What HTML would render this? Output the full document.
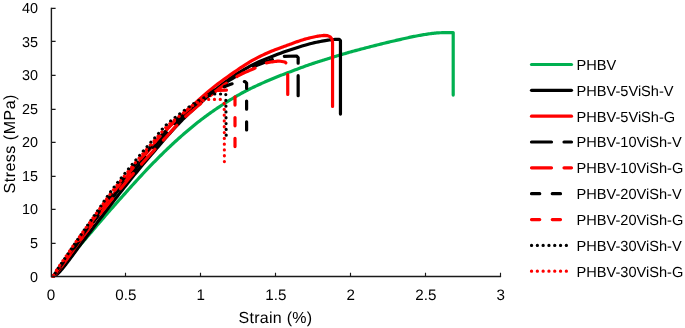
<!DOCTYPE html>
<html lang="en"><head><meta charset="utf-8"><title>Stress-strain curves</title>
<style>html,body{margin:0;padding:0;background:#fff}body{width:685px;height:328px;overflow:hidden}svg{display:block}</style></head>
<body>
<svg width="685" height="328" viewBox="0 0 685 328">
<rect width="685" height="328" fill="#fff"/>
<g fill="none" stroke-linecap="round" stroke-linejoin="round" stroke-width="3.2">
<path stroke="#00B050" d="M53.00 276.40 L54.06 275.13 L55.12 273.87 L56.17 272.61 L57.22 271.35 L58.27 270.09 L59.33 268.83 L60.39 267.56 L61.48 266.28 L62.58 264.99 L63.70 263.69 L64.85 262.37 L66.02 261.05 L67.20 259.71 L68.41 258.37 L69.62 257.03 L70.84 255.67 L72.06 254.31 L73.28 252.95 L74.49 251.58 L75.70 250.22 L76.90 248.84 L78.10 247.47 L79.30 246.08 L80.50 244.70 L81.70 243.30 L82.90 241.91 L84.10 240.51 L85.30 239.11 L86.50 237.71 L87.70 236.31 L88.90 234.91 L90.10 233.51 L91.30 232.10 L92.50 230.69 L93.70 229.27 L94.90 227.86 L96.10 226.45 L97.30 225.05 L98.50 223.64 L99.70 222.25 L100.90 220.85 L102.10 219.47 L103.30 218.08 L104.50 216.70 L105.70 215.31 L106.90 213.94 L108.10 212.56 L109.30 211.19 L110.50 209.82 L111.70 208.45 L112.90 207.08 L114.10 205.72 L115.30 204.36 L116.50 203.00 L117.70 201.65 L118.90 200.30 L120.10 198.95 L121.30 197.60 L122.50 196.25 L123.70 194.91 L124.90 193.57 L126.10 192.22 L127.30 190.88 L128.50 189.54 L129.70 188.21 L130.90 186.87 L132.10 185.54 L133.30 184.22 L134.50 182.90 L135.70 181.59 L136.90 180.28 L138.10 178.97 L139.30 177.67 L140.50 176.37 L141.70 175.07 L142.90 173.78 L144.10 172.50 L145.30 171.22 L146.50 169.95 L147.70 168.69 L148.90 167.44 L150.10 166.19 L151.30 164.95 L152.50 163.71 L153.70 162.48 L154.90 161.26 L156.10 160.04 L157.30 158.83 L158.50 157.63 L159.70 156.43 L160.90 155.24 L162.10 154.06 L163.30 152.89 L164.50 151.72 L165.70 150.56 L166.90 149.41 L168.10 148.26 L169.30 147.13 L170.50 146.00 L171.70 144.87 L172.90 143.76 L174.10 142.65 L175.30 141.55 L176.50 140.46 L177.70 139.37 L178.90 138.29 L180.10 137.22 L181.30 136.16 L182.50 135.11 L183.70 134.06 L184.90 133.02 L186.10 131.99 L187.30 130.97 L188.50 129.95 L189.70 128.94 L190.90 127.94 L192.10 126.94 L193.30 125.96 L194.50 124.99 L195.70 124.02 L196.90 123.07 L198.10 122.12 L199.30 121.19 L200.50 120.26 L201.70 119.34 L202.90 118.43 L204.10 117.53 L205.30 116.64 L206.50 115.76 L207.70 114.88 L208.90 114.01 L210.10 113.15 L211.30 112.30 L212.50 111.46 L213.70 110.63 L214.90 109.80 L216.10 108.98 L217.30 108.17 L218.50 107.37 L219.70 106.57 L220.90 105.78 L222.10 105.00 L223.30 104.22 L224.50 103.46 L225.70 102.70 L226.90 101.94 L228.10 101.20 L229.30 100.46 L230.50 99.72 L231.70 99.00 L232.90 98.28 L234.10 97.57 L235.30 96.86 L236.50 96.16 L237.70 95.46 L238.90 94.78 L240.10 94.10 L241.30 93.43 L242.50 92.77 L243.70 92.13 L244.90 91.49 L246.10 90.86 L247.30 90.24 L248.50 89.64 L249.70 89.04 L250.90 88.44 L252.10 87.86 L253.30 87.28 L254.50 86.71 L255.70 86.14 L256.90 85.58 L258.10 85.03 L259.30 84.48 L260.50 83.94 L261.70 83.41 L262.90 82.88 L264.10 82.36 L265.30 81.84 L266.50 81.32 L267.70 80.81 L268.90 80.29 L270.10 79.78 L271.30 79.27 L272.50 78.77 L273.70 78.27 L274.90 77.77 L276.10 77.28 L277.30 76.79 L278.50 76.31 L279.70 75.83 L280.90 75.35 L282.10 74.88 L283.30 74.41 L284.50 73.95 L285.70 73.50 L286.90 73.04 L288.10 72.59 L289.30 72.13 L290.50 71.68 L291.70 71.22 L292.90 70.77 L294.10 70.31 L295.30 69.85 L296.50 69.40 L297.70 68.94 L298.90 68.49 L300.10 68.04 L301.30 67.59 L302.50 67.15 L303.70 66.72 L304.90 66.29 L306.10 65.86 L307.30 65.44 L308.50 65.02 L309.70 64.61 L310.90 64.20 L312.10 63.79 L313.30 63.39 L314.50 62.99 L315.70 62.59 L316.90 62.20 L318.10 61.81 L319.30 61.42 L320.50 61.04 L321.70 60.66 L322.90 60.28 L324.10 59.91 L325.30 59.53 L326.50 59.16 L327.70 58.78 L328.90 58.41 L330.10 58.04 L331.30 57.67 L332.50 57.30 L333.70 56.93 L334.90 56.56 L336.10 56.20 L337.30 55.84 L338.50 55.48 L339.70 55.12 L340.90 54.76 L342.10 54.41 L343.30 54.05 L344.50 53.70 L345.70 53.35 L346.90 53.00 L348.10 52.65 L349.30 52.31 L350.50 51.97 L351.70 51.63 L352.90 51.30 L354.10 50.98 L355.30 50.65 L356.50 50.33 L357.70 50.01 L358.90 49.70 L360.10 49.38 L361.30 49.07 L362.50 48.75 L363.70 48.44 L364.90 48.12 L366.10 47.81 L367.30 47.50 L368.50 47.19 L369.70 46.88 L370.90 46.57 L372.10 46.26 L373.30 45.95 L374.50 45.65 L375.70 45.34 L376.90 45.04 L378.10 44.74 L379.30 44.43 L380.50 44.13 L381.70 43.83 L382.90 43.53 L384.10 43.24 L385.30 42.94 L386.50 42.65 L387.70 42.36 L388.90 42.08 L390.10 41.79 L391.30 41.51 L392.50 41.24 L393.70 40.96 L394.90 40.69 L396.10 40.41 L397.30 40.14 L398.50 39.87 L399.70 39.60 L400.90 39.33 L402.10 39.05 L403.30 38.78 L404.50 38.50 L405.70 38.23 L406.90 37.96 L408.10 37.69 L409.30 37.43 L410.50 37.17 L411.70 36.92 L412.90 36.68 L414.10 36.44 L415.30 36.20 L416.50 35.97 L417.70 35.75 L418.90 35.52 L420.10 35.31 L421.30 35.10 L422.50 34.89 L423.70 34.69 L424.91 34.50 L426.13 34.31 L427.35 34.12 L428.58 33.94 L429.81 33.76 L431.02 33.59 L432.22 33.43 L433.41 33.29 L434.57 33.16 L435.70 33.04 L436.80 32.95 L437.87 32.87 L438.91 32.81 L439.94 32.77 L440.96 32.73 L441.96 32.70 L442.96 32.67 L443.97 32.65 L444.98 32.61 L446.00 32.57 L453.20 32.55 L453.20 95.10"/>
<path stroke="#000000" d="M53.00 276.40 L53.44 276.17 L53.88 275.95 L54.32 275.73 L54.77 275.52 L55.21 275.30 L55.65 275.08 L56.09 274.84 L56.52 274.58 L56.95 274.30 L57.37 274.00 L57.77 273.67 L58.16 273.33 L58.54 272.98 L58.91 272.61 L59.28 272.23 L59.65 271.82 L60.03 271.40 L60.42 270.95 L60.83 270.49 L61.25 270.00 L61.70 269.49 L62.15 268.94 L62.62 268.38 L63.10 267.79 L63.58 267.19 L64.08 266.57 L64.57 265.94 L65.08 265.30 L65.58 264.65 L66.09 264.00 L66.58 263.36 L67.06 262.74 L67.53 262.13 L68.00 261.51 L68.48 260.88 L68.98 260.21 L69.51 259.50 L70.08 258.74 L70.70 257.91 L71.37 257.00 L72.10 256.02 L72.87 254.97 L73.68 253.86 L74.53 252.70 L75.41 251.50 L76.32 250.26 L77.26 248.98 L78.22 247.67 L79.20 246.34 L80.20 245.00 L81.21 243.64 L82.24 242.27 L83.28 240.88 L84.35 239.46 L85.44 238.00 L86.57 236.50 L87.73 234.96 L88.94 233.37 L90.19 231.72 L91.50 230.00 L92.86 228.20 L94.30 226.32 L95.79 224.37 L97.32 222.36 L98.89 220.31 L100.47 218.24 L102.07 216.16 L103.66 214.08 L105.24 212.02 L106.80 210.00 L108.33 208.01 L109.85 206.03 L111.37 204.06 L112.88 202.10 L114.40 200.12 L115.93 198.14 L117.48 196.15 L119.06 194.13 L120.66 192.08 L122.30 190.00 L123.98 187.88 L125.69 185.71 L127.44 183.52 L129.21 181.30 L130.99 179.07 L132.79 176.83 L134.60 174.60 L136.41 172.37 L138.21 170.17 L140.00 168.00 L141.83 165.80 L143.73 163.54 L145.68 161.25 L147.63 158.96 L149.57 156.69 L151.47 154.49 L153.29 152.38 L155.00 150.39 L156.58 148.55 L158.00 146.90 L159.22 145.47 L160.27 144.24 L161.17 143.17 L161.96 142.23 L162.69 141.38 L163.38 140.57 L164.07 139.77 L164.79 138.94 L165.59 138.02 L166.50 137.00 L167.49 135.89 L168.51 134.75 L169.55 133.59 L170.62 132.40 L171.72 131.19 L172.84 129.97 L173.97 128.74 L175.13 127.50 L176.31 126.25 L177.50 125.00 L178.64 123.81 L179.68 122.70 L180.67 121.63 L181.67 120.57 L182.72 119.47 L183.87 118.29 L185.18 117.00 L186.68 115.54 L188.44 113.89 L190.50 112.00 L192.92 109.80 L195.67 107.28 L198.70 104.53 L201.94 101.60 L205.31 98.58 L208.76 95.53 L212.22 92.53 L215.63 89.64 L218.91 86.94 L222.00 84.50 L224.93 82.27 L227.78 80.17 L230.58 78.17 L233.33 76.26 L236.06 74.44 L238.78 72.70 L241.52 71.01 L244.29 69.37 L247.11 67.77 L250.00 66.20 L252.96 64.67 L255.97 63.20 L259.03 61.80 L262.11 60.45 L265.21 59.14 L268.32 57.89 L271.43 56.67 L274.52 55.48 L277.58 54.33 L280.60 53.20 L283.64 52.09 L286.74 51.00 L289.87 49.93 L292.99 48.90 L296.09 47.91 L299.12 46.97 L302.06 46.08 L304.87 45.25 L307.53 44.49 L310.00 43.80 L312.31 43.19 L314.50 42.66 L316.57 42.21 L318.52 41.81 L320.37 41.47 L322.10 41.16 L323.73 40.90 L325.25 40.65 L326.68 40.42 L328.00 40.20 L329.18 40.00 L330.17 39.85 L331.02 39.74 L331.76 39.66 L332.41 39.60 L333.00 39.56 L333.58 39.52 L334.17 39.48 L334.80 39.42 L335.50 39.35 L339.30 39.45 L340.45 40.60 L340.45 114.10"/>
<path stroke="#FF0000" d="M53.00 276.40 L53.29 276.17 L53.57 275.95 L53.86 275.73 L54.15 275.52 L54.43 275.30 L54.72 275.08 L55.01 274.84 L55.30 274.58 L55.59 274.30 L55.88 274.00 L56.17 273.67 L56.46 273.33 L56.74 272.98 L57.02 272.61 L57.31 272.23 L57.60 271.82 L57.91 271.40 L58.23 270.95 L58.57 270.49 L58.93 270.00 L59.31 269.49 L59.71 268.94 L60.13 268.38 L60.57 267.79 L61.01 267.19 L61.47 266.57 L61.93 265.94 L62.40 265.30 L62.87 264.65 L63.34 264.00 L63.81 263.36 L64.26 262.74 L64.70 262.13 L65.15 261.51 L65.61 260.88 L66.09 260.21 L66.60 259.50 L67.15 258.74 L67.74 257.91 L68.39 257.00 L69.08 256.02 L69.82 254.97 L70.60 253.86 L71.41 252.70 L72.25 251.50 L73.13 250.26 L74.02 248.98 L74.95 247.67 L75.89 246.34 L76.85 245.00 L77.83 243.64 L78.82 242.27 L79.83 240.88 L80.87 239.46 L81.93 238.00 L83.02 236.50 L84.14 234.96 L85.31 233.37 L86.51 231.72 L87.75 230.00 L89.05 228.20 L90.40 226.32 L91.81 224.37 L93.25 222.36 L94.72 220.31 L96.21 218.24 L97.71 216.16 L99.21 214.08 L100.69 212.02 L102.15 210.00 L103.58 208.01 L104.99 206.03 L106.39 204.06 L107.79 202.10 L109.20 200.12 L110.62 198.14 L112.07 196.15 L113.54 194.13 L115.06 192.08 L116.64 190.00 L118.26 187.88 L119.93 185.71 L121.65 183.52 L123.40 181.30 L125.17 179.07 L126.96 176.83 L128.75 174.60 L130.55 172.37 L132.34 170.17 L134.12 168.00 L135.92 165.80 L137.80 163.54 L139.72 161.25 L141.65 158.96 L143.56 156.69 L145.43 154.49 L147.23 152.38 L148.92 150.39 L150.49 148.55 L151.90 146.90 L153.12 145.47 L154.17 144.24 L155.08 143.17 L155.89 142.23 L156.64 141.38 L157.34 140.57 L158.05 139.77 L158.79 138.94 L159.60 138.02 L160.50 137.00 L161.48 135.89 L162.47 134.75 L163.48 133.59 L164.51 132.40 L165.56 131.19 L166.64 129.97 L167.75 128.74 L168.90 127.50 L170.08 126.25 L171.31 125.00 L172.53 123.80 L173.70 122.66 L174.85 121.57 L176.03 120.47 L177.27 119.34 L178.60 118.15 L180.05 116.85 L181.66 115.42 L183.47 113.81 L185.50 112.00 L187.79 109.94 L190.32 107.64 L193.05 105.16 L195.94 102.53 L198.95 99.81 L202.05 97.04 L205.19 94.28 L208.34 91.57 L211.45 88.96 L214.50 86.50 L217.57 84.11 L220.76 81.71 L224.02 79.31 L227.31 76.94 L230.59 74.62 L233.83 72.37 L236.98 70.23 L240.00 68.20 L242.86 66.32 L245.50 64.60 L247.93 63.06 L250.20 61.69 L252.32 60.45 L254.32 59.34 L256.21 58.32 L258.03 57.38 L259.80 56.50 L261.53 55.66 L263.26 54.83 L265.00 54.00 L266.75 53.19 L268.47 52.44 L270.16 51.73 L271.82 51.07 L273.43 50.46 L274.99 49.87 L276.50 49.32 L277.94 48.80 L279.31 48.29 L280.60 47.80 L281.78 47.34 L282.83 46.94 L283.78 46.58 L284.66 46.25 L285.49 45.94 L286.31 45.64 L287.15 45.33 L288.02 45.01 L288.96 44.67 L290.00 44.30 L291.12 43.89 L292.30 43.46 L293.52 43.01 L294.78 42.55 L296.06 42.08 L297.35 41.62 L298.65 41.16 L299.95 40.72 L301.24 40.30 L302.50 39.90 L303.77 39.52 L305.06 39.15 L306.37 38.79 L307.68 38.44 L308.98 38.10 L310.27 37.78 L311.53 37.48 L312.74 37.20 L313.90 36.94 L315.00 36.70 L316.03 36.50 L316.99 36.33 L317.90 36.18 L318.77 36.06 L319.61 35.95 L320.43 35.86 L321.24 35.76 L322.06 35.67 L322.89 35.57 L323.75 35.45 L327.50 35.60 L330.30 36.90 L332.00 39.20 L332.55 42.00 L332.55 106.40"/>
<path stroke="#000000" stroke-dasharray="20 12.5" stroke-dashoffset="31.81" d="M53.00 276.40 L53.26 276.17 L53.51 275.95 L53.77 275.73 L54.02 275.52 L54.27 275.30 L54.53 275.08 L54.79 274.84 L55.05 274.58 L55.32 274.30 L55.59 274.00 L55.86 273.67 L56.12 273.33 L56.38 272.98 L56.65 272.61 L56.91 272.23 L57.19 271.82 L57.48 271.40 L57.79 270.95 L58.11 270.49 L58.46 270.00 L58.83 269.49 L59.22 268.94 L59.63 268.38 L60.06 267.79 L60.50 267.19 L60.94 266.57 L61.40 265.94 L61.86 265.30 L62.33 264.65 L62.80 264.00 L63.25 263.36 L63.70 262.74 L64.14 262.13 L64.58 261.51 L65.04 260.88 L65.52 260.21 L66.02 259.50 L66.56 258.74 L67.15 257.91 L67.79 257.00 L68.48 256.02 L69.21 254.97 L69.98 253.86 L70.78 252.70 L71.62 251.50 L72.49 250.26 L73.38 248.98 L74.29 247.67 L75.23 246.34 L76.18 245.00 L77.14 243.64 L78.11 242.27 L79.10 240.88 L80.10 239.46 L81.14 238.00 L82.21 236.50 L83.32 234.96 L84.49 233.37 L85.71 231.72 L87.00 230.00 L88.37 228.20 L89.81 226.32 L91.33 224.37 L92.89 222.36 L94.50 220.31 L96.13 218.24 L97.77 216.16 L99.41 214.08 L101.03 212.02 L102.63 210.00 L104.19 208.01 L105.75 206.03 L107.30 204.06 L108.85 202.10 L110.40 200.12 L111.97 198.14 L113.56 196.15 L115.17 194.13 L116.80 192.08 L118.47 190.00 L120.18 187.88 L121.93 185.71 L123.70 183.52 L125.50 181.30 L127.31 179.07 L129.13 176.83 L130.96 174.60 L132.79 172.37 L134.62 170.17 L136.43 168.00 L138.28 165.80 L140.20 163.54 L142.16 161.25 L144.13 158.96 L146.08 156.69 L147.99 154.49 L149.82 152.38 L151.55 150.39 L153.14 148.55 L154.57 146.90 L155.81 145.47 L156.88 144.24 L157.80 143.17 L158.61 142.23 L159.36 141.38 L160.06 140.57 L160.77 139.77 L161.51 138.94 L162.32 138.02 L163.23 137.00 L164.22 135.89 L165.24 134.74 L166.29 133.57 L167.36 132.38 L168.45 131.16 L169.55 129.94 L170.68 128.70 L171.82 127.47 L172.97 126.23 L174.12 125.00 L175.21 123.83 L176.17 122.75 L177.06 121.71 L177.95 120.68 L178.90 119.62 L179.96 118.50 L181.19 117.26 L182.65 115.87 L184.40 114.30 L186.50 112.50 L189.01 110.41 L191.90 108.03 L195.11 105.44 L198.55 102.68 L202.15 99.84 L205.84 96.96 L209.54 94.13 L213.19 91.40 L216.70 88.83 L220.00 86.50 L223.19 84.34 L226.38 82.25 L229.57 80.23 L232.73 78.29 L235.84 76.44 L238.89 74.67 L241.85 73.00 L244.70 71.43 L247.42 69.96 L250.00 68.60 L252.43 67.37 L254.73 66.27 L256.91 65.30 L258.99 64.42 L260.97 63.64 L262.88 62.92 L264.73 62.25 L266.52 61.62 L268.27 61.01 L270.00 60.40 L271.67 59.82 L273.24 59.32 L274.73 58.87 L276.16 58.46 L277.55 58.09 L278.91 57.74 L280.26 57.40 L281.61 57.05 L282.99 56.69 L284.40 56.30 L296.50 56.00 L298.15 57.60 L298.15 95.70"/>
<path stroke="#FF0000" stroke-dasharray="20 12.5" stroke-dashoffset="19.35" d="M53.00 276.40 L53.27 276.17 L53.54 275.95 L53.81 275.73 L54.08 275.52 L54.35 275.30 L54.62 275.08 L54.90 274.84 L55.17 274.58 L55.45 274.30 L55.73 274.00 L56.01 273.67 L56.29 273.33 L56.56 272.98 L56.83 272.61 L57.11 272.23 L57.40 271.82 L57.70 271.40 L58.01 270.95 L58.34 270.49 L58.69 270.00 L59.07 269.49 L59.47 268.94 L59.88 268.38 L60.31 267.79 L60.75 267.19 L61.21 266.57 L61.67 265.94 L62.13 265.30 L62.60 264.65 L63.07 264.00 L63.53 263.36 L63.98 262.74 L64.42 262.13 L64.87 261.51 L65.33 260.88 L65.80 260.21 L66.31 259.50 L66.86 258.74 L67.45 257.91 L68.09 257.00 L68.78 256.02 L69.52 254.97 L70.29 253.86 L71.10 252.70 L71.94 251.50 L72.81 250.26 L73.70 248.98 L74.62 247.67 L75.56 246.34 L76.52 245.00 L77.48 243.64 L78.45 242.27 L79.44 240.88 L80.44 239.46 L81.48 238.00 L82.55 236.50 L83.67 234.96 L84.84 233.37 L86.07 231.72 L87.37 230.00 L88.75 228.20 L90.22 226.32 L91.75 224.37 L93.33 222.36 L94.96 220.31 L96.61 218.24 L98.28 216.16 L99.94 214.08 L101.60 212.02 L103.22 210.00 L104.81 208.01 L106.40 206.03 L107.98 204.06 L109.56 202.10 L111.15 200.12 L112.76 198.14 L114.38 196.15 L116.03 194.13 L117.71 192.08 L119.43 190.00 L121.19 187.88 L122.99 185.71 L124.82 183.52 L126.68 181.30 L128.55 179.07 L130.44 176.83 L132.34 174.60 L134.24 172.37 L136.14 170.17 L138.03 168.00 L139.96 165.80 L141.97 163.54 L144.03 161.25 L146.10 158.96 L148.16 156.69 L150.16 154.49 L152.09 152.38 L153.91 150.39 L155.59 148.55 L157.09 146.90 L158.40 145.47 L159.52 144.24 L160.49 143.17 L161.35 142.23 L162.14 141.38 L162.88 140.57 L163.62 139.77 L164.39 138.94 L165.23 138.02 L166.17 137.00 L167.19 135.89 L168.22 134.74 L169.27 133.57 L170.34 132.37 L171.43 131.16 L172.54 129.93 L173.67 128.70 L174.82 127.46 L175.98 126.23 L177.16 125.00 L178.30 123.82 L179.37 122.72 L180.40 121.65 L181.44 120.58 L182.52 119.49 L183.68 118.35 L184.98 117.12 L186.43 115.77 L188.09 114.28 L190.00 112.60 L192.22 110.68 L194.77 108.51 L197.55 106.15 L200.52 103.66 L203.58 101.11 L206.68 98.55 L209.75 96.05 L212.70 93.66 L215.48 91.46 L218.00 89.50 L220.29 87.75 L222.45 86.14 L224.48 84.65 L226.42 83.26 L228.29 81.96 L230.12 80.73 L231.93 79.56 L233.74 78.42 L235.59 77.31 L237.50 76.20 L239.49 75.11 L241.55 74.06 L243.64 73.06 L245.75 72.10 L247.83 71.19 L249.87 70.32 L251.82 69.49 L253.66 68.72 L255.37 67.98 L256.90 67.30 L258.23 66.67 L259.36 66.11 L260.34 65.60 L261.21 65.14 L262.01 64.72 L262.77 64.33 L263.53 63.98 L264.34 63.64 L265.23 63.32 L266.25 63.00 L267.37 62.71 L268.55 62.45 L269.77 62.23 L271.02 62.03 L272.30 61.86 L273.60 61.69 L274.90 61.53 L276.20 61.36 L277.49 61.19 L278.75 61.00 L285.00 62.00 L287.70 64.60 L287.75 94.50"/>
<path stroke="#000000" stroke-dasharray="8.25 12.5" stroke-dashoffset="11.58" d="M53.00 276.40 L53.21 276.17 L53.42 275.95 L53.63 275.73 L53.83 275.52 L54.04 275.30 L54.25 275.08 L54.46 274.84 L54.68 274.58 L54.91 274.30 L55.14 274.00 L55.38 273.67 L55.61 273.33 L55.84 272.98 L56.08 272.61 L56.32 272.23 L56.58 271.82 L56.85 271.40 L57.13 270.95 L57.44 270.49 L57.76 270.00 L58.12 269.49 L58.49 268.94 L58.89 268.38 L59.30 267.79 L59.72 267.19 L60.16 266.57 L60.61 265.94 L61.06 265.30 L61.52 264.65 L61.97 264.00 L62.42 263.36 L62.86 262.74 L63.29 262.13 L63.73 261.51 L64.18 260.88 L64.65 260.21 L65.15 259.50 L65.68 258.74 L66.26 257.91 L66.89 257.00 L67.57 256.02 L68.30 254.97 L69.05 253.86 L69.85 252.70 L70.67 251.50 L71.53 250.26 L72.41 248.98 L73.31 247.67 L74.23 246.34 L75.17 245.00 L76.13 243.64 L77.10 242.27 L78.09 240.88 L79.11 239.46 L80.15 238.00 L81.22 236.50 L82.32 234.96 L83.46 233.37 L84.65 231.72 L85.87 230.00 L87.16 228.20 L88.51 226.32 L89.90 224.37 L91.34 222.36 L92.80 220.31 L94.29 218.24 L95.78 216.16 L97.27 214.08 L98.75 212.02 L100.20 210.00 L101.63 208.01 L103.03 206.03 L104.42 204.06 L105.81 202.10 L107.21 200.12 L108.63 198.14 L110.07 196.15 L111.55 194.13 L113.07 192.08 L114.65 190.00 L116.29 187.88 L117.97 185.71 L119.71 183.52 L121.47 181.30 L123.27 179.07 L125.08 176.83 L126.91 174.60 L128.74 172.37 L130.57 170.17 L132.39 168.00 L134.25 165.80 L136.19 163.54 L138.17 161.25 L140.17 158.96 L142.17 156.69 L144.11 154.49 L145.99 152.38 L147.76 150.39 L149.39 148.55 L150.86 146.90 L152.14 145.47 L153.24 144.24 L154.19 143.17 L155.04 142.23 L155.82 141.38 L156.56 140.57 L157.31 139.77 L158.11 138.94 L158.98 138.02 L159.96 137.00 L161.04 135.88 L162.17 134.73 L163.34 133.54 L164.54 132.33 L165.77 131.10 L167.00 129.86 L168.25 128.63 L169.49 127.40 L170.73 126.19 L171.94 125.00 L173.08 123.87 L174.12 122.80 L175.11 121.77 L176.09 120.75 L177.09 119.72 L178.17 118.65 L179.36 117.52 L180.69 116.30 L182.23 114.97 L184.00 113.50 L186.07 111.83 L188.44 109.94 L191.03 107.90 L193.78 105.76 L196.63 103.58 L199.51 101.41 L202.35 99.31 L205.09 97.34 L207.66 95.55 L210.00 94.00 L212.16 92.67 L214.24 91.48 L216.24 90.42 L218.16 89.47 L220.00 88.62 L221.76 87.86 L223.44 87.16 L225.04 86.51 L226.56 85.89 L228.00 85.30 L229.32 84.76 L230.51 84.32 L231.59 83.96 L232.58 83.66 L233.50 83.40 L234.38 83.17 L235.25 82.95 L236.13 82.73 L237.04 82.48 L238.00 82.20 L245.00 81.60 L246.60 83.20 L246.60 130.00"/>
<path stroke="#FF0000" stroke-dasharray="8.25 12.5" stroke-dashoffset="18.46" d="M53.00 276.40 L53.20 276.17 L53.39 275.95 L53.58 275.73 L53.77 275.52 L53.96 275.30 L54.16 275.08 L54.36 274.84 L54.56 274.58 L54.77 274.30 L54.99 274.00 L55.22 273.67 L55.44 273.33 L55.66 272.98 L55.89 272.61 L56.13 272.23 L56.37 271.82 L56.63 271.40 L56.91 270.95 L57.21 270.49 L57.53 270.00 L57.88 269.49 L58.25 268.94 L58.64 268.38 L59.05 267.79 L59.47 267.19 L59.90 266.57 L60.34 265.94 L60.79 265.30 L61.24 264.65 L61.70 264.00 L62.14 263.36 L62.58 262.74 L63.01 262.13 L63.44 261.51 L63.89 260.88 L64.36 260.21 L64.86 259.50 L65.39 258.74 L65.97 257.91 L66.59 257.00 L67.27 256.02 L67.99 254.97 L68.75 253.86 L69.54 252.70 L70.36 251.50 L71.21 250.26 L72.08 248.98 L72.98 247.67 L73.90 246.34 L74.84 245.00 L75.79 243.64 L76.75 242.27 L77.73 240.88 L78.73 239.46 L79.76 238.00 L80.82 236.50 L81.92 234.96 L83.07 233.37 L84.26 231.72 L85.50 230.00 L86.81 228.20 L88.19 226.32 L89.62 224.37 L91.10 222.36 L92.62 220.31 L94.15 218.24 L95.69 216.16 L97.24 214.08 L98.76 212.02 L100.26 210.00 L101.73 208.01 L103.19 206.03 L104.63 204.06 L106.08 202.10 L107.53 200.12 L108.99 198.14 L110.48 196.15 L112.00 194.13 L113.56 192.08 L115.16 190.00 L116.82 187.88 L118.53 185.71 L120.28 183.52 L122.06 181.30 L123.86 179.07 L125.67 176.83 L127.50 174.60 L129.32 172.37 L131.13 170.17 L132.92 168.00 L134.75 165.80 L136.64 163.54 L138.56 161.25 L140.50 158.96 L142.42 156.69 L144.30 154.49 L146.10 152.38 L147.80 150.39 L149.37 148.55 L150.78 146.90 L152.01 145.47 L153.06 144.24 L153.97 143.17 L154.78 142.23 L155.52 141.38 L156.22 140.57 L156.93 139.77 L157.67 138.94 L158.49 138.02 L159.41 137.00 L160.43 135.88 L161.48 134.71 L162.57 133.51 L163.69 132.28 L164.83 131.04 L165.98 129.79 L167.14 128.56 L168.29 127.34 L169.45 126.15 L170.58 125.00 L171.67 123.92 L172.68 122.91 L173.66 121.94 L174.62 121.00 L175.62 120.06 L176.66 119.10 L177.79 118.08 L179.04 116.99 L180.43 115.81 L182.00 114.50 L183.81 113.02 L185.86 111.36 L188.09 109.57 L190.45 107.69 L192.87 105.79 L195.30 103.90 L197.69 102.08 L199.97 100.37 L202.10 98.83 L204.00 97.50 L205.69 96.39 L207.24 95.45 L208.67 94.64 L210.01 93.95 L211.28 93.33 L212.51 92.76 L213.72 92.22 L214.94 91.66 L216.19 91.07 L217.50 90.40 L230.50 89.90 L235.00 95.60 L235.00 146.60"/>
<path stroke="#000000" stroke-dasharray="0.1 5.7" stroke-dashoffset="2.00" d="M53.00 276.40 L53.17 276.17 L53.33 275.95 L53.49 275.73 L53.64 275.52 L53.80 275.30 L53.96 275.08 L54.13 274.84 L54.31 274.58 L54.49 274.30 L54.69 274.00 L54.89 273.67 L55.09 273.33 L55.29 272.98 L55.50 272.61 L55.71 272.23 L55.94 271.82 L56.18 271.40 L56.44 270.95 L56.72 270.49 L57.03 270.00 L57.36 269.49 L57.72 268.94 L58.09 268.38 L58.49 267.79 L58.90 267.19 L59.32 266.57 L59.75 265.94 L60.19 265.30 L60.63 264.65 L61.07 264.00 L61.51 263.36 L61.93 262.74 L62.35 262.13 L62.78 261.51 L63.22 260.88 L63.68 260.21 L64.17 259.50 L64.69 258.74 L65.25 257.91 L65.87 257.00 L66.53 256.02 L67.24 254.97 L67.98 253.86 L68.75 252.70 L69.55 251.50 L70.39 250.26 L71.24 248.98 L72.12 247.67 L73.02 246.34 L73.94 245.00 L74.87 243.64 L75.82 242.27 L76.79 240.88 L77.78 239.46 L78.80 238.00 L79.84 236.50 L80.92 234.96 L82.03 233.37 L83.18 231.72 L84.37 230.00 L85.62 228.20 L86.92 226.32 L88.27 224.37 L89.66 222.36 L91.07 220.31 L92.50 218.24 L93.94 216.16 L95.37 214.08 L96.79 212.02 L98.19 210.00 L99.55 208.01 L100.90 206.03 L102.22 204.06 L103.55 202.10 L104.88 200.12 L106.22 198.14 L107.60 196.15 L109.01 194.13 L110.48 192.08 L112.00 190.00 L113.59 187.88 L115.23 185.71 L116.92 183.52 L118.65 181.30 L120.41 179.07 L122.19 176.83 L123.98 174.60 L125.76 172.37 L127.54 170.17 L129.30 168.00 L131.09 165.80 L132.94 163.54 L134.84 161.25 L136.75 158.96 L138.64 156.69 L140.49 154.49 L142.26 152.38 L143.94 150.39 L145.50 148.55 L146.90 146.90 L148.12 145.47 L149.18 144.24 L150.10 143.17 L150.93 142.23 L151.68 141.38 L152.41 140.57 L153.13 139.77 L153.88 138.94 L154.69 138.02 L155.60 137.00 L156.58 135.88 L157.57 134.71 L158.59 133.51 L159.62 132.28 L160.67 131.04 L161.75 129.79 L162.84 128.56 L163.95 127.34 L165.09 126.15 L166.25 125.00 L167.43 123.89 L168.63 122.81 L169.86 121.75 L171.10 120.70 L172.37 119.67 L173.66 118.65 L174.96 117.62 L176.29 116.59 L177.63 115.55 L179.00 114.50 L180.41 113.42 L181.86 112.31 L183.36 111.17 L184.88 110.04 L186.41 108.90 L187.93 107.79 L189.45 106.70 L190.93 105.66 L192.37 104.67 L193.75 103.75 L195.08 102.90 L196.36 102.12 L197.61 101.39 L198.83 100.70 L200.03 100.04 L201.22 99.40 L202.40 98.77 L203.59 98.13 L204.79 97.48 L206.00 96.80 L213.75 94.00 L225.80 94.00 L226.20 135.20"/>
<path stroke="#FF0000" stroke-dasharray="0.1 5.7" stroke-dashoffset="4.56" d="M53.00 276.40 L53.14 276.17 L53.27 275.95 L53.40 275.73 L53.52 275.52 L53.65 275.30 L53.79 275.08 L53.93 274.84 L54.08 274.58 L54.24 274.30 L54.41 274.00 L54.59 273.67 L54.77 273.33 L54.96 272.98 L55.15 272.61 L55.36 272.23 L55.57 271.82 L55.81 271.40 L56.06 270.95 L56.33 270.49 L56.63 270.00 L56.96 269.49 L57.31 268.94 L57.69 268.38 L58.08 267.79 L58.49 267.19 L58.91 266.57 L59.35 265.94 L59.79 265.30 L60.23 264.65 L60.68 264.00 L61.11 263.36 L61.54 262.74 L61.97 262.13 L62.40 261.51 L62.84 260.88 L63.31 260.21 L63.80 259.50 L64.33 258.74 L64.90 257.91 L65.53 257.00 L66.20 256.02 L66.91 254.97 L67.66 253.86 L68.45 252.70 L69.27 251.50 L70.11 250.26 L70.98 248.98 L71.88 247.67 L72.79 246.34 L73.73 245.00 L74.68 243.64 L75.64 242.27 L76.62 240.88 L77.63 239.46 L78.66 238.00 L79.73 236.50 L80.83 234.96 L81.97 233.37 L83.15 231.72 L84.37 230.00 L85.66 228.20 L87.02 226.32 L88.42 224.37 L89.87 222.36 L91.34 220.31 L92.84 218.24 L94.34 216.16 L95.84 214.08 L97.33 212.02 L98.79 210.00 L100.23 208.01 L101.64 206.03 L103.04 204.06 L104.44 202.10 L105.85 200.12 L107.27 198.14 L108.72 196.15 L110.20 194.13 L111.73 192.08 L113.31 190.00 L114.95 187.88 L116.64 185.71 L118.38 183.52 L120.15 181.30 L121.95 179.07 L123.76 176.83 L125.58 174.60 L127.40 172.37 L129.21 170.17 L131.00 168.00 L132.81 165.80 L134.69 163.54 L136.61 161.25 L138.54 158.96 L140.46 156.69 L142.32 154.49 L144.12 152.38 L145.81 150.39 L147.38 148.55 L148.79 146.90 L150.01 145.47 L151.07 144.24 L151.99 143.17 L152.80 142.23 L153.55 141.38 L154.26 140.57 L154.97 139.77 L155.72 138.94 L156.54 138.02 L157.45 137.00 L158.45 135.87 L159.49 134.69 L160.55 133.47 L161.64 132.22 L162.74 130.96 L163.87 129.70 L165.00 128.46 L166.13 127.25 L167.27 126.10 L168.40 125.00 L169.53 123.97 L170.67 122.99 L171.82 122.05 L172.97 121.15 L174.13 120.26 L175.30 119.39 L176.47 118.52 L177.64 117.63 L178.82 116.73 L180.00 115.80 L181.20 114.82 L182.44 113.79 L183.70 112.74 L184.96 111.67 L186.22 110.61 L187.47 109.57 L188.68 108.57 L189.85 107.63 L190.96 106.77 L192.00 106.00 L192.96 105.34 L193.86 104.76 L194.69 104.26 L195.49 103.82 L196.25 103.42 L196.99 103.05 L197.73 102.68 L198.46 102.32 L199.22 101.93 L200.00 101.50 L208.00 99.40 L220.50 99.40 L224.20 103.50 L224.40 161.60"/>
</g>
<g stroke="#1a1a1a" fill="none">
<path stroke-width="1.4" d="M51.4 7.75V277.2 M50.699999999999996 276.5H501.1"/>
<path stroke-width="1.25" d="M51.4 8.35H55.6 M51.4 41.35H55.6 M51.4 75.35H55.6 M51.4 109.35H55.6 M51.4 142.35H55.6 M51.4 176.35H55.6 M51.4 209.35H55.6 M51.4 243.35H55.6"/>
<path stroke-width="1.15" d="M125.50 276.5V272.7 M200.50 276.5V272.7 M275.50 276.5V272.7 M350.50 276.5V272.7 M425.50 276.5V272.7 M500.50 276.5V272.7"/>
</g>
<g font-family="'Liberation Sans', Arial, sans-serif" font-size="14.4" fill="#000" text-rendering="geometricPrecision">
<text x="38" y="281.52" text-anchor="end">0</text>
<text x="38" y="247.98" text-anchor="end">5</text>
<text x="38" y="214.44" text-anchor="end">10</text>
<text x="38" y="180.90" text-anchor="end">15</text>
<text x="38" y="147.36" text-anchor="end">20</text>
<text x="38" y="113.82" text-anchor="end">25</text>
<text x="38" y="80.28" text-anchor="end">30</text>
<text x="38" y="46.74" text-anchor="end">35</text>
<text x="38" y="13.20" text-anchor="end">40</text>
<text x="51.00" y="299.9" font-size="15.2" text-anchor="middle">0</text>
<text x="125.80" y="299.9" font-size="15.2" text-anchor="middle">0.5</text>
<text x="200.80" y="299.9" font-size="15.2" text-anchor="middle">1</text>
<text x="275.80" y="299.9" font-size="15.2" text-anchor="middle">1.5</text>
<text x="350.80" y="299.9" font-size="15.2" text-anchor="middle">2</text>
<text x="425.80" y="299.9" font-size="15.2" text-anchor="middle">2.5</text>
<text x="500.80" y="299.9" font-size="15.2" text-anchor="middle">3</text>
<text x="576.5" y="69.90" font-size="14.6">PHBV</text>
<text x="576.5" y="95.74" font-size="14.6">PHBV-5ViSh-V</text>
<text x="576.5" y="121.58" font-size="14.6">PHBV-5ViSh-G</text>
<text x="576.5" y="147.42" font-size="14.6">PHBV-10ViSh-V</text>
<text x="576.5" y="173.26" font-size="14.6">PHBV-10ViSh-G</text>
<text x="576.5" y="199.10" font-size="14.6">PHBV-20ViSh-V</text>
<text x="576.5" y="224.94" font-size="14.6">PHBV-20ViSh-G</text>
<text x="576.5" y="250.78" font-size="14.6">PHBV-30ViSh-V</text>
<text x="576.5" y="276.62" font-size="14.6">PHBV-30ViSh-G</text>
</g>
<g font-family="'Liberation Sans', Arial, sans-serif" font-size="16" fill="#000" text-rendering="geometricPrecision">
<text x="275.45" y="322.8" text-anchor="middle" letter-spacing="0.26">Strain (%)</text>
<text transform="translate(15 143.8) rotate(-90)" text-anchor="middle" letter-spacing="0.5">Stress (MPa)</text>
</g>
<g fill="none" stroke-linecap="round" stroke-width="3.2">
<path stroke="#00B050" d="M531.5 64.50H571.5"/>
<path stroke="#000000" d="M531.5 90.34H571.5"/>
<path stroke="#FF0000" d="M531.5 116.18H571.5"/>
<path stroke="#000000" stroke-dasharray="20 12.5" d="M531.5 142.02H571.5"/>
<path stroke="#FF0000" stroke-dasharray="20 12.5" d="M531.5 167.86H571.5"/>
<path stroke="#000000" stroke-dasharray="8.25 12.5" d="M531.5 193.70H571.5"/>
<path stroke="#FF0000" stroke-dasharray="8.25 12.5" d="M531.5 219.54H571.5"/>
<path stroke="#000000" stroke-dasharray="0.1 5.7" d="M531.5 245.38H567"/>
<path stroke="#FF0000" stroke-dasharray="0.1 5.7" d="M531.5 271.22H567"/>
</g>
</svg>
</body></html>
